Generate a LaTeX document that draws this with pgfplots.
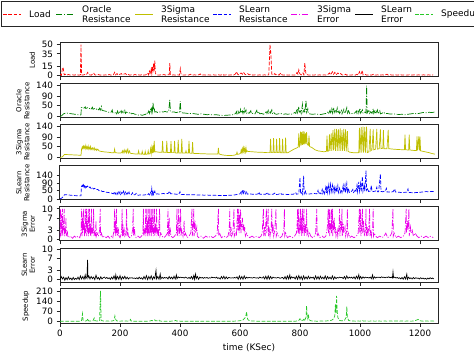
\documentclass[border=0pt]{standalone}
\usepackage{pgfplots}
\pgfplotsset{compat=1.18}
\usepackage{fontspec}
\setmainfont{DejaVu Sans}
\definecolor{cred}{RGB}{255,0,0}
\definecolor{cgreen}{RGB}{0,128,0}
\definecolor{colive}{RGB}{191,191,0}
\definecolor{cblue}{RGB}{0,0,255}
\definecolor{cmag}{RGB}{235,0,235}
\definecolor{clime}{RGB}{40,200,40}
\tikzset{
  mdash/.style={dash pattern=on 3.7bp off 1.6bp},
  mdashdot/.style={dash pattern=on 6.4bp off 1.6bp on 1bp off 1.6bp},
}
\pgfplotsset{
  panel/.style={
    scale only axis, width=378bp, height=34bp,
    anchor=south west,
    xmin=0, xmax=1260,
    xtick={0,200,400,600,800,1000,1200},
    xticklabels={},
    axis line style={line width=1bp, black!85},
    tick align=outside, tick pos=left,
    major tick length=3.5bp,
    every tick/.style={black!85, line width=0.8bp},
    ylabel style={font=\fontsize{7}{8}\selectfont, align=center},
    tick label style={font=\fontsize{8.8}{10}\selectfont},
    /pgf/number format/assume math mode=true,
    every axis plot/.append style={line width=0.7bp},
  },
}
\begin{document}
\begin{tikzpicture}
% ---- Load
\begin{axis}[panel, at={(60bp,276bp)}, ymin=-2.5, ymax=52.5, ytick={0,15,35,50}, ylabel={Load}]
\addplot[color=cred, mdash] coordinates {(0,1) (3,2) (5,0.5) (8,12) (10,13) (12,8) (14,1) (18,2) (22,0.5) (28,1.5) (35,0.5) (42,1) (48,0.5) (55,1.5) (62,0.5) (68,1) (70,50) (72,1) (76,0.5) (82,1.5) (88,1) (92,5) (95,3) (98,1) (104,0.5) (108,2) (112,4) (116,1) (122,0.5) (128,1.5) (134,0.5) (140,1) (146,0.5) (152,1) (158,0.5) (164,1.5) (170,0.5) (178,1) (182,5) (185,1) (190,3) (194,0.5) (200,2) (205,3) (208,1) (212,2) (218,3) (222,1) (226,2) (232,0.5) (238,1) (244,0.5) (250,1.5) (256,0.5) (262,1) (268,0.5) (274,1.5) (280,0.5) (286,1) (292,4) (295,1) (298,7) (301,2) (304,10) (306,3) (308,15) (310,5) (312,20) (314,8) (316,24) (318,3) (322,1) (328,0.5) (334,1) (340,0.5) (346,1.5) (352,0.5) (358,1) (364,1) (366,20) (368,2) (372,0.5) (378,1) (386,0.5) (392,1) (398,0.5) (401,11) (403,3) (406,1) (412,0.5) (420,1) (428,0.5) (436,2) (440,0.5) (448,1) (456,0.5) (462,1) (468,2.5) (472,0.5) (480,1) (488,0.5) (496,1) (504,0.5) (512,1) (520,0.5) (528,1) (536,0.5) (542,2) (546,0.5) (554,1) (562,0.5) (570,1) (578,0.5) (584,2) (588,6) (592,2) (596,1) (600,3) (604,4) (608,2) (612,5) (616,2) (620,1) (626,3) (630,1) (636,2) (642,0.5) (650,1) (658,0.5) (666,1) (674,0.5) (682,1) (690,0.5) (696,1) (700,50) (703,35) (706,2) (712,1) (716,3) (720,1) (724,2) (730,0.5) (736,4) (740,1) (746,0.5) (754,1) (762,0.5) (770,1) (778,0.5) (786,1) (790,5) (793,2) (796,9) (799,3) (804,1) (810,4) (813,1) (816,20) (818,10) (820,2) (826,1) (832,0.5) (838,1) (846,0.5) (852,1) (858,0.5) (864,1) (872,0.5) (880,1) (888,0.5) (894,2) (898,4) (902,1) (908,6) (912,2) (916,5) (920,1) (926,4) (930,2) (936,3) (940,1) (946,0.5) (952,2) (956,0.5) (962,1) (970,0.5) (976,1) (984,0.5) (990,2) (994,0.5) (998,6) (1001,2) (1004,3) (1008,8) (1010,1) (1016,2) (1022,0.5) (1030,1) (1038,0.5) (1046,2) (1050,0.5) (1058,1) (1066,0.5) (1074,1) (1082,0.5) (1090,2) (1094,0.5) (1102,1) (1110,0.5) (1118,1) (1126,0.5) (1134,1.5) (1140,0.5) (1148,1) (1156,0.5) (1164,1) (1172,0.5) (1180,1) (1188,0.5) (1196,1) (1204,0.5) (1212,1) (1220,0.5) (1228,1) (1236,0.5) (1244,1)};
\end{axis}
% ---- Oracle
\begin{axis}[panel, at={(60bp,235bp)}, ymin=-7, ymax=148, ytick={0,50,90,140}, ylabel={Oracle\\Resistance}]
\addplot[color=cgreen, mdashdot] coordinates {(0,0) (5,3) (12,12) (20,16) (30,14) (40,12) (50,10) (60,8) (68,7) (70,8) (71,40) (76,42) (80,38) (84,44) (86,36) (92,40) (96,35) (100,38) (104,34) (108,42) (110,33) (116,36) (120,31) (124,36) (128,30) (132,38) (134,29) (138,45) (140,28) (146,26) (152,24) (156,22) (160,20) (166,18) (170,19) (174,30) (176,17) (182,15) (186,18) (188,12) (192,25) (194,14) (198,22) (200,15) (204,26) (206,16) (210,24) (212,15) (216,28) (218,14) (222,20) (226,17) (230,15) (234,20) (238,12) (244,14) (250,10) (256,9) (262,6) (268,8) (274,5) (280,8) (286,10) (290,18) (292,12) (296,25) (298,14) (302,35) (304,20) (306,45) (308,25) (310,65) (312,30) (314,40) (316,20) (320,22) (326,18) (332,20) (338,22) (344,20) (350,23) (356,20) (362,22) (366,75) (368,22) (374,20) (380,21) (386,18) (392,19) (398,18) (401,70) (403,18) (410,16) (420,15) (430,13) (440,14) (450,12) (460,10) (470,12) (480,10) (490,8) (500,9) (510,7) (520,8) (530,6) (540,5) (550,5) (560,6) (570,7) (580,9) (586,15) (588,22) (590,12) (594,28) (596,14) (600,20) (602,32) (604,16) (608,25) (610,14) (614,35) (616,18) (620,30) (622,15) (626,20) (630,14) (636,26) (638,12) (644,15) (650,12) (656,28) (658,14) (662,22) (666,12) (672,14) (678,10) (684,16) (688,25) (690,14) (694,28) (696,15) (700,24) (702,16) (706,30) (708,14) (712,20) (716,12) (722,10) (728,12) (734,14) (740,12) (746,10) (752,12) (758,10) (764,11) (770,10) (776,12) (782,18) (786,14) (790,35) (792,18) (796,45) (798,20) (802,25) (804,14) (808,55) (810,20) (814,30) (816,15) (820,75) (822,18) (826,35) (828,14) (832,12) (840,10) (850,11) (860,10) (870,9) (880,12) (888,14) (894,22) (896,15) (900,28) (902,14) (906,35) (908,16) (912,40) (914,18) (918,30) (920,16) (924,38) (926,15) (930,25) (932,14) (938,28) (940,12) (946,32) (948,14) (952,22) (956,40) (958,15) (962,26) (966,12) (972,14) (978,12) (984,18) (988,25) (990,14) (994,30) (996,16) (1000,38) (1002,15) (1008,30) (1010,14) (1016,20) (1020,16) (1022,140) (1024,16) (1030,30) (1032,14) (1036,22) (1040,14) (1044,35) (1046,14) (1050,28) (1052,12) (1058,30) (1060,13) (1066,26) (1068,12) (1074,15) (1080,20) (1084,12) (1090,14) (1100,11) (1110,12) (1120,10) (1130,9) (1140,10) (1150,8) (1160,10) (1170,12) (1180,14) (1190,12) (1200,15) (1210,18) (1220,17) (1230,19) (1240,18) (1248,20)};
\end{axis}
% ---- 3Sigma Resistance
\begin{axis}[panel, at={(60bp,194bp)}, ymin=-7, ymax=148, ytick={0,50,90,140}, ylabel={3Sigma\\Resistance}]
\addplot[color=colive] coordinates {(0,0) (8,3) (15,14) (25,13) (40,12) (55,11) (68,10) (70,10) (72,38) (74,48) (76,40) (78,52) (80,42) (82,50) (84,40) (86,55) (88,41) (90,48) (92,40) (94,52) (96,38) (98,46) (100,38) (102,50) (104,36) (108,44) (110,35) (114,45) (116,33) (120,40) (122,32) (126,38) (130,30) (136,28) (140,27) (150,25) (160,24) (170,22) (180,21) (182,38) (184,22) (190,21) (200,20) (206,22) (208,30) (210,20) (214,35) (216,22) (220,33) (222,21) (226,38) (228,20) (232,30) (234,19) (240,18) (250,16) (260,16) (262,30) (264,16) (272,15) (274,28) (276,15) (282,14) (284,28) (286,14) (292,16) (294,30) (296,15) (300,18) (302,40) (304,18) (306,45) (308,20) (310,55) (312,22) (314,75) (316,25) (320,26) (330,24) (340,24) (342,75) (344,24) (354,23) (356,75) (358,23) (368,22) (370,74) (372,22) (380,22) (382,75) (384,21) (392,20) (394,80) (396,20) (404,20) (406,85) (408,20) (418,20) (420,30) (422,20) (428,20) (430,75) (432,20) (440,19) (442,70) (444,19) (450,18) (460,18) (470,17) (480,17) (490,16) (500,16) (510,16) (520,16) (526,16) (528,44) (530,16) (540,12) (550,10) (560,9) (570,9) (580,10) (588,14) (590,24) (592,14) (598,16) (602,20) (604,34) (606,22) (608,40) (610,24) (612,44) (614,26) (616,42) (618,25) (620,44) (622,26) (624,30) (626,28) (630,27) (640,26) (650,25) (660,24) (670,24) (680,23) (690,22) (700,22) (702,85) (704,22) (710,22) (712,88) (714,22) (720,22) (722,85) (724,22) (730,22) (732,88) (734,22) (740,21) (742,85) (744,21) (750,21) (752,90) (754,21) (760,22) (770,30) (780,38) (790,44) (794,48) (796,110) (798,50) (800,56) (802,118) (804,55) (806,115) (808,58) (810,120) (812,60) (814,118) (816,60) (818,110) (820,62) (822,115) (824,60) (828,55) (830,100) (832,50) (840,45) (850,35) (860,30) (870,28) (880,26) (888,28) (890,100) (892,28) (896,30) (898,105) (900,30) (904,110) (906,30) (910,125) (912,32) (916,130) (918,30) (922,130) (924,30) (928,128) (930,30) (934,132) (936,30) (940,125) (942,30) (946,130) (948,30) (952,128) (954,28) (958,120) (960,28) (966,24) (976,22) (986,21) (996,22) (998,135) (1000,22) (1004,138) (1006,22) (1010,140) (1012,22) (1016,138) (1018,22) (1022,140) (1024,22) (1030,26) (1034,130) (1036,30) (1040,35) (1044,128) (1046,35) (1052,38) (1056,130) (1058,38) (1064,40) (1068,128) (1070,40) (1076,42) (1078,125) (1080,40) (1090,40) (1094,126) (1096,40) (1110,38) (1130,36) (1148,35) (1150,104) (1152,35) (1162,34) (1164,104) (1166,34) (1180,32) (1188,32) (1190,96) (1192,32) (1196,96) (1198,32) (1200,95) (1202,30) (1210,28) (1220,25) (1230,22) (1240,18) (1250,15)};
\end{axis}
% ---- SLearn Resistance
\begin{axis}[panel, at={(60bp,153bp)}, ymin=-6, ymax=192, ytick={0,50,90,140}, ylabel={SLearn\\Resistance}]
\addplot[color=cblue, mdash] coordinates {(0,0) (8,8) (15,25) (25,24) (35,22) (45,20) (55,19) (65,18) (70,18) (71,70) (74,80) (76,68) (78,82) (80,70) (82,80) (84,66) (86,78) (88,68) (92,75) (96,64) (100,70) (104,60) (108,66) (112,58) (116,62) (120,54) (126,56) (130,48) (136,50) (140,44) (146,44) (152,40) (160,38) (166,36) (172,34) (178,30) (182,42) (184,28) (188,36) (190,26) (194,40) (196,27) (200,42) (202,26) (206,38) (208,28) (212,45) (214,26) (218,40) (220,27) (224,36) (226,25) (230,40) (232,26) (238,25) (242,36) (244,24) (250,25) (254,32) (256,23) (262,22) (268,24) (274,22) (280,23) (286,25) (292,24) (296,32) (298,24) (302,38) (304,26) (306,60) (308,28) (310,42) (312,26) (316,45) (318,28) (324,30) (330,28) (336,29) (344,32) (350,30) (360,32) (366,45) (368,30) (376,30) (386,28) (396,27) (400,42) (402,27) (410,26) (420,25) (430,24) (440,25) (450,24) (460,23) (470,24) (480,22) (490,23) (500,21) (510,22) (520,21) (530,20) (540,21) (550,20) (560,21) (570,22) (580,23) (590,26) (600,30) (604,42) (606,30) (610,55) (612,32) (616,45) (618,30) (622,40) (624,28) (630,30) (640,28) (650,27) (660,29) (664,40) (666,28) (676,27) (686,28) (692,38) (694,27) (700,28) (710,27) (716,34) (718,26) (728,27) (736,34) (738,27) (748,28) (758,26) (768,27) (778,28) (786,36) (788,28) (796,30) (800,125) (802,30) (806,38) (808,28) (812,135) (814,30) (818,45) (820,30) (826,28) (836,30) (846,32) (856,30) (860,50) (862,30) (866,36) (870,30) (874,55) (876,32) (880,50) (882,32) (886,68) (888,36) (890,78) (892,38) (896,82) (898,38) (902,85) (904,42) (908,80) (910,42) (914,78) (916,38) (920,68) (922,40) (926,78) (928,38) (932,62) (934,36) (938,55) (940,38) (944,78) (946,40) (950,82) (952,38) (956,90) (958,40) (962,62) (964,38) (970,40) (976,55) (978,38) (984,50) (986,40) (990,80) (992,42) (996,100) (998,46) (1002,90) (1004,44) (1008,130) (1010,46) (1014,78) (1016,46) (1020,165) (1022,50) (1026,62) (1028,44) (1034,46) (1038,78) (1040,42) (1046,44) (1052,46) (1056,68) (1058,42) (1062,42) (1068,145) (1070,44) (1076,42) (1084,46) (1088,62) (1090,40) (1100,40) (1110,42) (1116,58) (1118,40) (1126,40) (1136,38) (1146,38) (1156,40) (1160,58) (1162,38) (1170,37) (1180,36) (1190,38) (1200,39) (1210,41) (1220,43) (1230,42) (1240,44) (1248,43)};
\end{axis}
% ---- 3Sigma Error
\begin{axis}[panel, at={(60bp,112bp)}, ymin=-0.6, ymax=10.6, ytick={0,3,7,10}, ylabel={3Sigma\\Error}]
\addplot[color=cmag, mdashdot] coordinates {(0,0.5) (2,10) (3,1) (5,8) (6,2) (8,10) (9,1) (11,6) (12,3) (14,10) (15,1) (17,4) (18,2) (20,7) (21,1) (24,3) (26,1) (30,0.5) (36,1) (42,0.3) (48,1) (54,0.5) (60,1) (66,0.5) (70,2) (72,10) (73,1) (75,7) (76,2) (78,10) (79,3) (81,5) (82,1) (84,10) (85,2) (87,4) (88,10) (89,1) (91,6) (92,2) (94,10) (95,1) (97,3) (98,10) (99,2) (101,5) (102,1) (105,10) (106,1) (108,4) (110,2) (112,10) (113,1) (116,3) (118,1) (120,6) (121,1) (124,2) (128,1) (132,3) (134,10) (135,1) (138,2) (142,0.5) (148,1) (154,0.5) (160,1) (166,0.3) (172,1) (176,0.5) (180,3) (182,10) (183,2) (185,6) (186,1) (188,10) (189,2) (191,4) (192,1) (195,3) (197,1) (200,0.5) (205,2) (207,10) (208,1) (210,5) (211,1) (214,3) (216,1) (220,2) (222,10) (223,1) (226,3) (228,1) (232,0.5) (238,1) (242,3) (244,10) (245,1) (248,4) (250,1) (254,0.5) (260,1) (266,0.5) (272,1) (276,2) (278,10) (279,1) (282,3) (284,1) (286,10) (287,2) (289,4) (290,10) (291,1) (293,6) (294,2) (296,10) (297,1) (299,5) (300,10) (301,2) (303,7) (304,1) (306,10) (307,2) (309,4) (310,10) (311,1) (313,3) (315,10) (316,1) (318,5) (319,2) (322,10) (323,1) (326,3) (328,1) (332,10) (333,1) (336,2) (340,1) (346,0.5) (352,1) (358,2) (360,10) (361,1) (364,7) (365,1) (368,3) (370,1) (376,0.5) (382,1) (388,2) (390,10) (391,1) (394,5) (396,10) (397,1) (400,4) (402,10) (403,1) (406,3) (410,1) (414,6) (415,1) (418,2) (424,0.5) (430,1) (436,2) (440,10) (441,1) (444,5) (446,10) (447,1) (450,6) (452,2) (456,4) (458,1) (462,0.5) (470,1) (478,0.3) (486,1) (494,0.5) (502,1) (510,0.5) (518,1) (524,2) (528,10) (529,1) (532,2) (538,0.5) (546,1) (554,0.5) (560,1) (564,3) (566,10) (567,1) (570,4) (572,1) (576,2) (580,10) (581,1) (584,2) (588,1) (592,10) (593,3) (595,6) (596,10) (597,2) (599,8) (600,3) (602,10) (603,2) (605,5) (606,4) (608,7) (610,3) (612,5) (614,2) (616,4) (618,1) (622,2) (626,1) (632,0.5) (640,1) (648,0.5) (656,1) (664,0.5) (670,1) (674,2) (678,10) (679,1) (682,4) (684,1) (688,10) (689,2) (692,5) (694,10) (695,1) (698,3) (700,1) (704,4) (706,10) (707,2) (710,5) (712,1) (716,3) (720,10) (721,1) (724,2) (728,1) (734,0.5) (740,1) (746,3) (748,10) (749,1) (752,2) (758,0.5) (766,1) (774,0.5) (782,1) (788,2) (790,4) (792,10) (793,2) (795,6) (796,10) (797,1) (799,5) (800,3) (802,10) (803,2) (805,7) (806,1) (808,10) (809,2) (811,4) (813,10) (814,1) (816,5) (818,2) (820,4) (822,10) (823,1) (826,3) (828,1) (832,2) (836,1) (842,0.5) (848,1) (852,2) (856,10) (857,1) (860,2) (866,0.5) (874,1) (880,0.5) (886,1) (890,3) (892,5) (894,10) (895,2) (897,7) (898,10) (899,1) (901,5) (902,3) (904,10) (905,2) (907,8) (908,10) (909,1) (911,6) (912,3) (914,7) (916,2) (918,4) (920,1) (924,3) (926,1) (930,4) (932,10) (933,1) (936,6) (938,3) (940,10) (941,1) (944,5) (946,2) (950,4) (952,1) (956,3) (958,10) (959,1) (962,2) (966,0.5) (972,1) (980,0.5) (988,1) (994,2) (998,10) (999,2) (1001,5) (1002,10) (1003,1) (1006,4) (1008,10) (1009,2) (1012,6) (1014,1) (1018,3) (1020,10) (1021,1) (1024,4) (1026,1) (1030,5) (1032,10) (1033,1) (1036,3) (1038,1) (1042,4) (1044,10) (1045,1) (1048,2) (1052,1) (1058,0.5) (1066,1) (1074,0.5) (1080,1) (1086,2) (1092,0.5) (1100,1) (1106,2) (1110,10) (1111,1) (1114,2) (1120,0.5) (1128,1) (1136,0.5) (1144,1) (1150,2) (1154,10) (1155,2) (1158,6) (1160,3) (1163,10) (1164,1) (1168,4) (1170,2) (1174,3) (1178,1) (1184,2) (1190,1) (1196,0.5) (1204,1) (1212,0.5) (1220,1) (1228,0.5) (1236,1) (1244,0.5)};
\end{axis}
% ---- SLearn Error
\begin{axis}[panel, at={(60bp,71bp)}, ymin=-0.8, ymax=10.4, ytick={0,3,7,10}, ylabel={SLearn\\Error}]
\addplot[color=black] coordinates {(0,0) (4,1) (8,0.2) (12,0.8) (16,-0.2) (20,0.6) (24,0) (28,0.9) (32,0.1) (36,0.5) (40,-0.1) (44,0.7) (48,0) (52,0.4) (56,0.1) (60,0.8) (64,0) (68,1.2) (72,0.2) (76,1) (80,0.1) (84,1.5) (86,0.3) (90,1) (92,6.5) (93,0.5) (96,1.2) (100,0.2) (104,1) (108,0.3) (112,0.8) (116,0) (120,1.4) (124,0.2) (128,0.7) (132,0) (136,0.9) (140,0.2) (144,0.6) (148,0.8) (152,0.4) (156,0.7) (160,0.3) (164,0.6) (168,0.1) (172,0.8) (176,0.2) (180,1.2) (184,0.1) (186,1.5) (188,0.2) (192,1) (196,0.1) (200,1.3) (204,0) (208,0.9) (212,0.3) (216,1.1) (220,0.2) (224,0.8) (228,0.2) (232,0.6) (236,0.5) (240,0.6) (244,0.4) (248,0.5) (252,0.3) (256,0.6) (260,0.2) (264,0.8) (268,0.3) (272,0.6) (276,0.1) (280,1) (284,0.2) (288,1.3) (292,0) (296,1) (300,0.2) (304,1.2) (308,0) (312,0.9) (316,0.3) (320,3) (322,0.2) (326,1) (330,0.1) (334,1.8) (336,0.2) (340,0.8) (344,0.4) (348,0.7) (352,0.5) (356,0.7) (360,0.2) (364,1) (368,0.3) (372,0.8) (376,0.2) (380,1.1) (384,0.2) (388,1.5) (390,0.3) (394,0.9) (398,0.6) (402,0.8) (406,0.6) (410,0.7) (414,0.5) (418,0.8) (422,0.6) (426,0.4) (430,0.7) (434,0.3) (438,1) (442,0.2) (446,1.3) (448,0.1) (452,1.8) (454,0.3) (458,1) (462,0.1) (466,0.8) (470,0.5) (474,0.7) (478,0.4) (482,0.7) (486,0.5) (490,0.7) (494,0.4) (498,0.6) (502,0.5) (506,0.8) (510,0.6) (514,0.7) (518,0.5) (522,0.8) (526,0.4) (530,0.6) (534,0.2) (538,1) (542,0.3) (546,1.1) (550,0.2) (554,0.9) (558,0.3) (562,0.7) (566,0.6) (570,0.5) (574,0.6) (578,0.5) (582,0.7) (586,0.5) (590,0.9) (594,0.1) (598,1.2) (602,0.2) (606,1) (610,0.1) (614,1.2) (618,0.3) (622,0.8) (626,0.5) (630,0.7) (634,0.6) (638,0.6) (642,0.5) (646,0.7) (650,0.6) (654,0.5) (658,0.6) (662,0.4) (666,0.8) (670,0.6) (674,0.5) (678,0.9) (682,0.2) (686,1.1) (690,0.1) (694,1.2) (698,0.2) (702,1) (706,0.3) (710,0.8) (714,0.6) (718,0.6) (722,0.5) (726,0.7) (730,0.6) (734,0.4) (738,0.6) (742,0.7) (746,0.2) (750,1) (754,0.1) (758,1.2) (762,0.2) (766,1.5) (768,0.3) (772,0.9) (776,0.5) (780,0.8) (784,0.2) (788,1.1) (792,0.1) (796,1.3) (800,0.2) (804,1) (808,0) (812,1.2) (816,0.2) (820,0.9) (824,0.2) (828,1.1) (832,0.3) (836,0.8) (840,0.5) (844,0.8) (848,0.1) (852,1.2) (856,0.2) (860,1) (864,0.1) (868,1.1) (872,0.3) (876,0.8) (880,0.2) (884,1.2) (888,0.1) (892,1) (896,0.3) (900,0.8) (904,0.2) (908,1.2) (912,0.1) (916,0.9) (920,0.3) (924,0.7) (928,0.5) (932,0.8) (936,0.6) (940,0.7) (944,0.3) (948,1) (952,0.2) (956,1.2) (960,0.4) (964,0.8) (968,0.5) (972,0.8) (976,0.4) (980,0.9) (984,0.2) (988,1.1) (992,0.3) (996,1.6) (998,0.2) (1002,1) (1006,0.3) (1010,0.9) (1014,0.5) (1018,0.8) (1022,0.6) (1026,0.7) (1030,0.5) (1034,0.8) (1038,0.3) (1042,1.5) (1044,0.2) (1048,0.9) (1052,0.5) (1056,0.8) (1060,0.7) (1064,0.8) (1068,0.6) (1072,0.9) (1076,0.7) (1080,0.8) (1084,0.6) (1088,0.8) (1092,0.7) (1096,0.9) (1100,0.6) (1104,0.8) (1108,0.5) (1110,2.5) (1112,0.6) (1116,0.8) (1120,0.5) (1124,0.7) (1128,0.4) (1132,0.6) (1136,0.2) (1140,0.7) (1144,0.1) (1148,0.9) (1152,0.2) (1156,1.8) (1158,0.1) (1162,0.8) (1166,0.3) (1170,0.6) (1174,0.2) (1178,0.7) (1182,0.3) (1186,0.6) (1190,0.4) (1194,0.5) (1198,0.2) (1202,0.6) (1206,0.3) (1210,0.5) (1214,0.2) (1218,0.4) (1222,0.1) (1226,0.5) (1230,0.2) (1234,0.6) (1238,0.3) (1242,0.5) (1246,0.2)};
\end{axis}
% ---- Speedup
\begin{axis}[panel, at={(60bp,30bp)}, ymin=-10, ymax=229, ytick={0,70,140,210}, ylabel={Speedup},
  xticklabels={0,200,400,600,800,1000,1200}, xlabel={time (KSec)},
  xlabel style={font=\fontsize{9}{10}\selectfont}]
\addplot[color=clime, mdash] coordinates {(0,2) (10,3) (20,2) (30,3) (40,2) (50,3) (60,2) (68,3) (72,8) (75,55) (77,10) (80,5) (86,4) (90,8) (93,20) (95,5) (100,4) (106,3) (110,6) (114,25) (116,6) (120,5) (126,4) (132,8) (135,215) (137,10) (140,6) (146,4) (152,3) (158,4) (164,3) (170,4) (176,5) (180,10) (183,40) (185,20) (188,6) (194,4) (200,3) (208,4) (214,3) (220,4) (226,3) (232,5) (235,15) (237,4) (244,3) (252,2) (260,3) (268,2) (276,3) (284,2) (292,3) (300,4) (306,8) (310,5) (316,12) (318,6) (324,5) (330,10) (332,4) (338,3) (346,2) (354,3) (362,2) (370,3) (376,4) (382,6) (386,8) (388,4) (394,5) (400,3) (410,2) (420,3) (430,2) (440,3) (450,2) (460,3) (470,2) (480,3) (490,2) (500,3) (510,2) (520,3) (530,2) (540,3) (550,2) (560,3) (570,2) (580,3) (590,4) (600,6) (606,8) (610,12) (614,20) (618,30) (620,45) (622,70) (624,30) (626,15) (630,8) (636,5) (644,4) (652,3) (660,2) (670,3) (680,2) (690,3) (700,2) (710,3) (720,2) (730,3) (740,2) (750,3) (760,2) (770,3) (780,2) (790,4) (796,8) (800,20) (802,6) (806,10) (810,8) (814,20) (816,10) (820,30) (822,110) (824,40) (826,20) (828,50) (830,15) (834,8) (838,5) (846,4) (854,3) (862,3) (870,4) (878,3) (886,4) (894,6) (900,8) (906,10) (912,20) (916,40) (918,120) (920,60) (922,180) (924,70) (926,30) (930,10) (936,6) (942,5) (948,8) (954,30) (956,105) (958,30) (962,8) (968,5) (976,4) (984,3) (992,4) (1000,3) (1008,8) (1012,3) (1020,4) (1030,3) (1040,4) (1050,3) (1060,4) (1070,3) (1080,4) (1090,3) (1100,4) (1110,3) (1120,4) (1130,3) (1140,4) (1150,3) (1160,4) (1170,3) (1180,4) (1186,8) (1190,12) (1194,15) (1198,8) (1202,5) (1210,3) (1220,4) (1230,3) (1240,4) (1248,3)};
\end{axis}
% ---- legend
\begin{scope}[font=\fontsize{9}{10}\selectfont]
\draw[black!85, line width=1bp, fill=white] (1bp,326bp) rectangle (500bp,351bp);
\draw[cred, mdash, line width=0.8bp] (3bp,338.5bp) -- (21bp,338.5bp);
\node[anchor=west, inner sep=0pt, align=left] at (29bp,338.5bp) {Load};
\draw[cgreen, mdashdot, line width=0.8bp] (56bp,338.5bp) -- (74bp,338.5bp);
\node[anchor=west, inner sep=0pt, align=left] at (82bp,338.5bp) {Oracle\\Resistance};
\draw[colive, line width=0.8bp] (135bp,338.5bp) -- (153bp,338.5bp);
\node[anchor=west, inner sep=0pt, align=left] at (161bp,338.5bp) {3Sigma\\Resistance};
\draw[cblue, mdash, line width=0.8bp] (213bp,338.5bp) -- (231bp,338.5bp);
\node[anchor=west, inner sep=0pt, align=left] at (239bp,338.5bp) {SLearn\\Resistance};
\draw[cmag, mdashdot, line width=0.8bp] (291bp,338.5bp) -- (309bp,338.5bp);
\node[anchor=west, inner sep=0pt, align=left] at (317bp,338.5bp) {3Sigma\\Error};
\draw[black, line width=0.8bp] (355bp,338.5bp) -- (373bp,338.5bp);
\node[anchor=west, inner sep=0pt, align=left] at (381bp,338.5bp) {SLearn\\Error};
\draw[clime, mdash, line width=0.8bp] (415bp,338.5bp) -- (433bp,338.5bp);
\node[anchor=west, inner sep=0pt, align=left] at (441bp,338.5bp) {Speedup};
\end{scope}
\pgfresetboundingbox
\path[use as bounding box] (0,0) rectangle (474bp,353bp);
\end{tikzpicture}
\end{document}
